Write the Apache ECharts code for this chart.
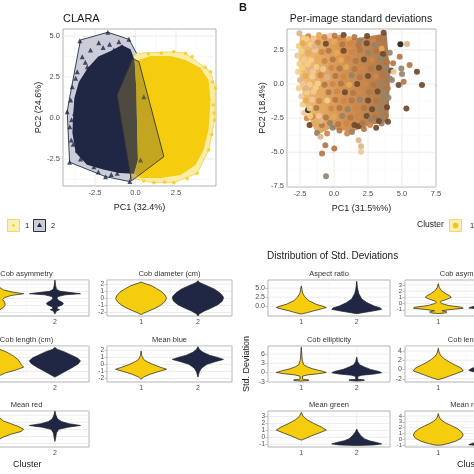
<!DOCTYPE html>
<html><head><meta charset="utf-8">
<script src="https://cdn.jsdelivr.net/npm/echarts@6/dist/echarts.min.js"></script>
<style>html,body{margin:0;padding:0;background:#fff}#c{width:474px;height:474px}</style>
</head><body><div id="c"></div><script>
// ---------------- DATA ----------------
// Panel A (CLARA) – cluster hulls / dense regions / edge points, in PC units
const hullCluster2 = [[-3.40,4.76],[-1.71,5.23],[-0.41,4.80],[0.06,3.95],[0.35,0.6],[-0.35,-3.88],[-1.85,-3.58],[-4.07,-2.70],[-4.22,0.38],[-4.06,1.30]];
const hullCluster1 = [[0.10,3.95],[2.36,4.04],[3.09,3.95],[4.63,2.82],[4.94,1.81],[4.88,-0.12],[4.52,-1.95],[3.81,-3.37],[2.36,-3.95],[1.13,-3.95],[-0.20,-3.68],[-1.05,1.40],[-0.25,3.66]];
const denseCluster2 = [[-2.95,3.05],[-2.3,3.75],[-1.5,4.1],[-0.85,4.45],[-0.31,4.2],[-0.06,3.54],[0.05,1.71],[0.10,-0.73],[0.15,-2.56],[-0.10,-3.40],[-1.0,-3.35],[-2.0,-3.15],[-3.0,-2.85],[-3.7,-2.1],[-3.9,-0.9],[-3.85,0.2],[-3.78,1.2],[-3.5,2.2]];
const denseCluster1 = [[0.19,3.54],[0.93,3.78],[2.16,3.78],[3.09,3.54],[4.01,3.05],[4.51,2.32],[4.63,1.10],[4.51,-0.73],[4.20,-1.95],[3.70,-2.87],[2.78,-3.48],[1.54,-3.66],[0.31,-3.66],[-0.05,-3.40],[0.15,-2.56],[0.10,-0.73],[0.05,1.71],[-0.06,3.54]];
const overlapHull = [[-0.16,3.64],[0.21,3.43],[1.75,-2.36],[-0.25,-3.84],[-1.13,1.40]];
const cluster2Edge = [[-3.44,4.71],[-2.27,4.59],[-1.71,5.23],[-1.03,4.65],[-0.41,4.80],[-3.29,3.74],[-3.60,2.82],[-3.91,1.91],[-4.01,1.10],[-4.22,0.38],[-4.06,-0.53],[-3.97,-1.34],[-4.07,-2.70],[-3.19,-2.36],[-1.85,-3.58],[-1.13,-3.37],[-0.35,-3.88],[-2.78,4.15],[-1.34,4.15],[-0.82,4.35],[-2.98,3.13],[-3.70,2.42],[-3.77,0.29],[-3.70,-0.93],[-3.60,-1.95],[-2.57,-2.97],[0.31,-2.56],[0.51,1.30],[-2.0,4.3],[-1.6,4.5],[-3.1,3.4],[-3.95,-0.1],[-3.85,-1.6],[-3.4,-2.5],[-2.3,-3.3],[-1.5,-3.45]];
const cluster1Edge = [[2.36,4.04],[3.09,3.95],[4.63,2.82],[4.94,1.81],[4.88,-0.12],[4.52,-1.95],[3.81,-3.37],[2.36,-3.95],[1.13,-3.95],[1.60,3.95],[4.30,3.10],[4.80,0.80],[4.70,-1.00],[3.20,-3.70],[0.50,-3.85],[1.80,-3.90],[4.75,2.20],[4.85,0.30],[3.50,3.75],[0.80,3.90]];
const aTicksX = [-2.5, 0, 2.5];
const aTicksY = [-2.5, 0, 2.5, 5];

// Panel B – per-image standard deviations: [PC1, PC2, colour index]
const bPalette = ['#f4cf83','#e7a955','#dcb48a','#b37645','#6e4a2e','#94836a','#d08545','#2b1f18','#f2c79a'];
const bCloudOutline = [[-2.5,3.6],[-0.07,3.46],[1.67,3.36],[3.87,3.73],[4.12,0.66],[3.99,-2.77],[2.65,-3.01],[1.30,-3.5],[-0.29,-3.26],[-1.27,-3.75],[-2.01,-2.04],[-2.5,0.17],[-2.62,1.89]];
const bPoints = [
 [-2.55,3.73,2],[-2.2,3.3,0],[-1.9,3.5,6],[-1.5,3.35,8],[-1.1,3.6,1],[-0.7,3.45,6],[-0.3,3.55,8],[0.05,3.55,3],[0.45,3.4,6],[0.71,3.6,4],[1.1,3.3,1],[1.5,3.45,3],[1.9,3.2,5],[2.43,3.53,4],[2.9,3.1,6],[3.3,3.3,3],[3.65,3.77,4],[3.5,2.6,1],
 [-2.6,2.8,0],[-2.7,2.1,8],[-2.55,1.5,0],[-2.65,0.9,0],[-2.5,0.3,2],[-2.6,-0.3,0],[-2.4,-0.9,8],[-2.3,-1.5,0],[-2.2,-2.1,8],[-2.0,-2.5,6],[-1.91,-1.91,7],
 [-1.8,-3.0,1],[-1.25,-3.58,5],[-1.0,-3.87,2],[-0.51,-3.63,6],[-0.64,-4.49,3],[-0.1,-3.2,5],[0.4,-3.4,3],[0.96,-3.63,6],[1.32,-3.51,5],[1.8,-3.1,4],[2.2,-3.3,3],[2.65,-3.0,6],[3.1,-3.2,4],[3.5,-2.9,5],[3.97,-2.77,4],
 [4.1,2.3,5],[3.9,1.6,3],[4.2,1.0,4],[4.1,0.4,5],[3.95,-0.3,3],[4.0,-1.0,5],[3.9,-1.7,4],[3.8,-2.3,3],
 [4.88,2.92,7],[5.37,2.94,2],[4.83,2.01,3],[5.56,1.4,3],[6.1,0.91,4],[6.47,-0.07,4],[5.0,0.74,5],[5.12,0.17,3],[4.75,-0.07,4],[5.32,-1.79,4],[4.95,1.15,5],[4.39,0.91,8],[4.26,0.29,5],[4.34,1.52,3],
 [1.81,-4.12,2],[1.99,-4.56,2],[1.99,-4.97,8],[0.02,-4.73,3],[-0.88,-5.1,3],[-0.59,-6.76,5],[-1.79,-3.01,4],
 [-2.3,3.0,1],[-1.7,2.9,0],[-1.2,3.05,6],[-0.6,2.95,4],[0,3.1,1],[0.6,2.9,3],[1.2,3.0,6],[1.8,2.85,3],[2.4,3.0,4],[3.0,2.9,5],
 [-2.4,2.4,0],[-1.9,2.3,1],[-1.4,2.5,8],[-0.9,2.35,6],[-0.4,2.45,3],[0.2,2.3,1],[0.7,2.45,4],[1.3,2.35,6],[1.9,2.5,3],[2.5,2.3,5],[3.1,2.45,3],[3.6,2.2,4],
 [-2.2,1.8,8],[-1.7,1.75,0],[-1.2,1.85,1],[-0.7,1.7,6],[-0.1,1.8,3],[0.5,1.75,1],[1.0,1.85,6],[1.6,1.7,3],[2.2,1.8,4],[2.8,1.75,6],[3.4,1.85,5],
 [-2.35,1.2,0],[-1.8,1.15,2],[-1.3,1.25,0],[-0.8,1.1,8],[-0.2,1.2,6],[0.4,1.15,3],[0.9,1.25,1],[1.5,1.1,3],[2.1,1.2,6],[2.7,1.15,3],[3.3,1.2,4],[3.8,1.1,5],
 [-2.1,0.6,1],[-1.6,0.55,0],[-1.0,0.65,6],[-0.5,0.5,2],[0.1,0.6,3],[0.7,0.55,6],[1.3,0.65,5],[1.9,0.5,3],[2.5,0.6,4],[3.1,0.55,6],[3.6,0.65,3],
 [-2.3,0,8],[-1.8,-0.05,0],[-1.2,0.05,0],[-0.7,-0.05,3],[-0.1,0,6],[0.5,0.05,3],[1.1,-0.05,1],[1.7,0,4],[2.3,0.05,6],[2.9,-0.05,3],[3.5,0,5],
 [-2.0,-0.6,0],[-1.5,-0.55,8],[-1.0,-0.65,1],[-0.4,-0.6,3],[0.2,-0.55,6],[0.8,-0.6,4],[1.4,-0.65,3],[2.0,-0.55,6],[2.6,-0.6,3],[3.2,-0.55,4],[3.7,-0.65,5],
 [-2.1,-1.2,1],[-1.6,-1.15,8],[-1.1,-1.25,6],[-0.5,-1.2,0],[0.1,-1.15,3],[0.7,-1.25,6],[1.3,-1.2,3],[1.9,-1.15,5],[2.5,-1.2,4],[3.1,-1.25,3],[3.6,-1.2,5],
 [-1.8,-1.8,0],[-1.3,-1.75,3],[-0.8,-1.85,1],[-0.2,-1.8,6],[0.4,-1.75,3],[1.0,-1.85,5],[1.6,-1.8,6],[2.2,-1.75,3],[2.8,-1.85,4],[3.4,-1.8,5],
 [-1.6,-2.4,6],[-1.1,-2.35,8],[-0.6,-2.45,3],[0,-2.4,1],[0.6,-2.35,5],[1.2,-2.45,3],[1.8,-2.4,6],[2.4,-2.35,4],[3.0,-2.45,3],[3.6,-2.4,5],
 [-1.4,-2.9,1],[-0.9,-3.0,3],[-0.3,-2.85,5],[0.3,-2.95,3],[0.9,-2.9,6],[1.5,-3.0,4],[2.1,-2.85,3],[2.7,-2.6,5],[3.3,-2.7,4],
 [-2.0,3.3,0],[-1.45,2.75,2],[-1.95,1.45,0],[-1.55,0.9,8],[-2.05,-0.3,2],[-1.35,-0.25,0],[-1.75,-2.35,0],[-0.95,-2.7,2]
];
const bTicksX = [-2.5, 0, 2.5, 5, 7.5];
const bTicksY = [-7.5, -5, -2.5, 0, 2.5];

// Violin profiles: [value, relative half-width] from top to bottom
// Means figure (left)
const mAsym1 = [[2.1,0],[1.6,0.05],[1.2,0.2],[0.9,0.55],[0.66,1.0],[0.4,0.5],[0.1,0.25],[-0.2,0.18],[-0.5,0.25],[-0.9,0.28],[-1.3,0.2],[-1.6,0.08],[-2.0,0]];
const mAsym2 = [[2.6,0],[1.8,0.03],[1.3,0.06],[1.0,0.2],[0.85,0.55],[0.66,1.0],[0.5,0.4],[0.25,0.12],[0,0.08],[-0.3,0.15],[-0.6,0.3],[-0.8,0.33],[-1.0,0.25],[-1.2,0.1],[-1.45,0.08],[-1.6,0.18],[-1.8,0.06],[-2.2,0]];
const mDiam1 = [[2.3,0],[2.1,0.15],[1.8,0.4],[1.4,0.6],[1.0,0.78],[0.5,0.93],[0,1.0],[-0.5,0.92],[-1.0,0.75],[-1.4,0.55],[-1.8,0.3],[-2.1,0.1],[-2.3,0]];
const mDiam2 = [[2.5,0],[2.2,0.08],[1.8,0.35],[1.3,0.65],[0.8,0.85],[0.3,0.98],[0,1.0],[-0.4,0.95],[-0.9,0.78],[-1.4,0.5],[-1.8,0.25],[-2.2,0.05],[-2.5,0]];
const mLen1 = [[2.2,0],[1.8,0.3],[1.2,0.6],[0.6,0.8],[0,0.9],[-0.4,1.0],[-0.8,0.7],[-1.2,0.3],[-1.6,0.05],[-1.8,0]];
const mLen2 = [[2.4,0],[2.1,0.1],[1.8,0.35],[1.3,0.65],[0.9,0.88],[0.5,1.0],[0.1,0.92],[-0.4,0.7],[-0.9,0.45],[-1.3,0.25],[-1.6,0.1],[-1.8,0]];
const mBlue1 = [[1.9,0],[1.2,0.03],[0.7,0.1],[0.4,0.22],[0,0.45],[-0.4,0.75],[-0.7,1.0],[-1.0,0.7],[-1.4,0.35],[-1.8,0.1],[-2.1,0]];
const mBlue2 = [[2.5,0],[2.1,0.06],[1.7,0.2],[1.3,0.45],[0.95,0.8],[0.7,1.0],[0.4,0.7],[0,0.35],[-0.5,0.15],[-1.0,0.06],[-1.8,0]];
const mRed1 = [[1.8,0],[1.2,0.2],[0.8,0.5],[0.4,0.8],[0,1.0],[-0.3,0.9],[-0.7,0.5],[-1.1,0.2],[-1.5,0]];
const mRed2 = [[2.6,0],[2.0,0.04],[1.5,0.1],[1.1,0.25],[0.8,0.55],[0.55,1.0],[0.3,0.5],[0,0.15],[-0.5,0.06],[-1.2,0.03],[-1.7,0]];
const meanTitles = ['Cob asymmetry','Cob diameter (cm)','Cob length (cm)','Mean blue','Mean red'];
const meanProfiles = [[mAsym1,mAsym2],[mDiam1,mDiam2],[mLen1,mLen2],[mBlue1,mBlue2],[mRed1,mRed2]];
const meanYRange = [-2.5, 2.6];
const meanYTicks = [-2,-1,0,1,2];

// Std-deviations figure (right)
const sAsp1 = [[5.6,0],[4.5,0.03],[3.5,0.06],[2.5,0.15],[1.5,0.3],[0.5,0.6],[0,0.85],[-0.4,1.0],[-0.8,0.8],[-1.3,0.5],[-1.8,0.25],[-2.2,0]];
const sAsp2 = [[6.9,0],[5,0.03],[3.5,0.08],[2,0.2],[1,0.4],[0,0.7],[-0.5,0.95],[-0.9,1.0],[-1.3,0.7],[-1.7,0.35],[-2.1,0]];
const sAsym1 = [[3.2,0],[2.6,0.04],[2.1,0.12],[1.6,0.3],[1.2,0.48],[1.0,0.52],[0.7,0.35],[0.4,0.12],[0.2,0.08],[0,0.15],[-0.3,0.4],[-0.6,0.95],[-0.75,1.0],[-0.95,0.5],[-1.15,0.15],[-1.35,0.35],[-1.5,0.3],[-1.6,0]];
const sAsym2 = [[3.0,0],[1.5,0.05],[0.5,0.15],[0,0.35],[-0.5,0.85],[-0.7,1.0],[-0.9,0.5],[-1.3,0.2],[-1.6,0]];
const sEll1 = [[8.2,0],[6,0.02],[4,0.04],[2.5,0.1],[1.8,0.25],[1.2,0.45],[0.5,0.8],[0,1.0],[-0.4,0.7],[-0.8,0.25],[-1.2,0.05],[-2.2,0.05],[-2.4,0.3],[-2.6,0.3],[-2.8,0]];
const sEll2 = [[5.0,0],[3.5,0.04],[2.5,0.12],[1.8,0.3],[1,0.55],[0.3,0.9],[-0.1,1.0],[-0.5,0.7],[-0.9,0.2],[-1.3,0.04],[-2.2,0.04],[-2.4,0.3],[-2.6,0.3],[-2.8,0]];
const sLen1 = [[4.6,0],[3.8,0.03],[3.0,0.1],[2.3,0.25],[1.6,0.45],[0.9,0.7],[0.3,0.92],[-0.3,1.0],[-0.8,0.75],[-1.3,0.5],[-1.8,0.25],[-2.2,0]];
const sLen2 = [[4.0,0],[2.5,0.1],[1.0,0.5],[0.2,0.9],[-0.2,1.0],[-0.8,0.6],[-1.5,0.25],[-2.2,0]];
const sGreen1 = [[3.6,0],[3,0.08],[2.5,0.25],[2,0.5],[1.5,0.8],[1.05,1.0],[0.6,0.7],[0.2,0.4],[-0.2,0.15],[-0.4,0]];
const sGreen2 = [[1.2,0],[0.8,0.05],[0.3,0.15],[-0.2,0.3],[-0.5,0.5],[-0.75,0.8],[-0.95,1.0],[-1.1,0.7],[-1.2,0]];
const sRed1 = [[4.4,0],[3.8,0.04],[3.3,0.12],[2.8,0.3],[2.3,0.55],[1.8,0.78],[1.2,0.95],[0.75,1.0],[0.2,0.92],[-0.3,0.7],[-0.7,0.4],[-0.95,0.15],[-1.0,0]];
const sRed2 = [[2.5,0],[1,0.1],[0,0.4],[-0.6,0.8],[-0.9,1.0],[-1.1,0.5],[-1.2,0]];
const sdTitles = ['Aspect ratio','Cob asymmetry','Cob ellipticity','Cob length','Mean green','Mean red'];
const sdProfiles = [[sAsp1,sAsp2],[sAsym1,sAsym2],[sEll1,sEll2],[sLen1,sLen2],[sGreen1,sGreen2],[sRed1,sRed2]];
const sdYRanges = [[-2.75,7.25],[-2.0,3.8],[-3.1,8.6],[-2.7,5.1],[-1.4,3.8],[-1.3,4.85]];
const sdYTicks = [[0,2.5,5],[-1,0,1,2,3],[-3,0,3,6],[-2,0,2,4],[-1,0,1,2,3],[-1,0,1,2,3,4]];
const clusterCats = [1, 2];

// ---------------- RENDER ----------------
const FONT = '"Liberation Sans", Arial, Helvetica, sans-serif';
const YEL = '#f5cc0e', NAVY = '#1f2745';
const HW = 0.45;
const chart = echarts.init(document.getElementById('c'), null, {renderer:'canvas', width:474, height:474});
const grids = [], xAxes = [], yAxes = [], series = [], graphics = [];

function midpoints(t){ const r=[]; for(let i=0;i<t.length-1;i++) r.push((t[i]+t[i+1])/2); return r; }

function addGrid(rect, xr, yr, xt, yt, xfmt, yfmt, fs, yfs, xname, yname) {
  const gi = grids.length;
  grids.push({left:rect[0], top:rect[1], width:rect[2], height:rect[3], show:true, borderColor:'#b3b3b3', borderWidth:1, backgroundColor:'#fff', containLabel:false, outerBoundsMode:'none'});
  const common = (ticks, fmt, size) => ({
    axisLine:{show:false}, splitLine:{show:false},
    axisTick:{show:true, customValues:ticks, length:2.5, lineStyle:{color:'#b3b3b3', width:0.8}},
    axisLabel:{customValues:ticks, formatter:fmt, fontSize:size, color:'#4d4d4d', margin:3, fontFamily:FONT, hideOverlap:false, showMinLabel:true, showMaxLabel:true}
  });
  xAxes.push(Object.assign({gridIndex:gi, type:'value', min:xr[0], max:xr[1]}, common(xt, xfmt, fs),
    xname ? {name:xname, nameLocation:'middle', nameGap:17, nameTextStyle:{fontSize:9, color:'#1a1a1a', fontFamily:FONT}} : {}));
  yAxes.push(Object.assign({gridIndex:gi, type:'value', min:yr[0], max:yr[1]}, common(yt, yfmt, yfs),
    yname ? {name:yname, nameLocation:'middle', nameGap:20, nameRotate:90, nameTextStyle:{fontSize:9, color:'#1a1a1a', fontFamily:FONT}} : {}));
  const lines = [];
  xt.forEach(v=>lines.push([0,v,0])); midpoints(xt).forEach(v=>lines.push([0,v,1]));
  yt.forEach(v=>lines.push([1,v,0])); midpoints(yt).forEach(v=>lines.push([1,v,1]));
  if (yt.length>1) { const lo = yt[0]-(yt[1]-yt[0])/2, hi = yt[yt.length-1]+(yt[1]-yt[0])/2; if(lo>yr[0]) lines.push([1,lo,1]); if(hi<yr[1]) lines.push([1,hi,1]); }
  if (xt.length>1 && xt[1]-xt[0] !== 1) { const lo = xt[0]-(xt[1]-xt[0])/2, hi = xt[xt.length-1]+(xt[1]-xt[0])/2; if(lo>xr[0]) lines.push([0,lo,1]); if(hi<xr[1]) lines.push([0,hi,1]); }
  series.push({type:'custom', xAxisIndex:gi, yAxisIndex:gi, z:1, silent:true, data:lines,
    renderItem(params, api){
      const cs = params.coordSys; const t = api.value(0), v = api.value(1), m = api.value(2);
      const st = {stroke: m ? '#f2f2f2' : '#e4e4e4', lineWidth: m ? 0.5 : 0.7};
      if (t === 0) { const p = api.coord([v, yr[0]]); return {type:'line', shape:{x1:p[0], y1:cs.y, x2:p[0], y2:cs.y+cs.height}, style:st}; }
      const p = api.coord([xr[0], v]); return {type:'line', shape:{x1:cs.x, y1:p[1], x2:cs.x+cs.width, y2:p[1]}, style:st};
    }});
  return gi;
}

function polySeries(gi, polys, styles, z) {
  series.push({type:'custom', xAxisIndex:gi, yAxisIndex:gi, z, silent:true,
    data: polys.map((p,i)=>[i,0]),
    renderItem(params, api){
      const i = params.dataIndex;
      return {type:'polygon', shape:{points: polys[i].map(pt=>api.coord(pt))}, style: styles[i]};
    }});
}

function violinSeries(gi, profs) {
  const fills = [YEL, NAVY];
  series.push({type:'custom', xAxisIndex:gi, yAxisIndex:gi, z:3, silent:true,
    data: clusterCats.map(c=>[c,0]),
    renderItem(params, api){
      const cat = api.value(0), prof = profs[params.dataIndex];
      const right = prof.map(([y,w])=>api.coord([cat + w*HW, y]));
      const left = prof.slice().reverse().map(([y,w])=>api.coord([cat - w*HW, y]));
      return {type:'polygon', shape:{points: right.concat(left)}, style:{fill: fills[params.dataIndex], stroke:'#202020', lineWidth:0.7}};
    }});
}

function txt(text, x, y, size, opts={}) {
  graphics.push(Object.assign({type:'text', x, y, z:100, style:Object.assign({text, fill:'#1a1a1a', fontSize:size, fontFamily:FONT, align:'left', verticalAlign:'middle'}, opts.style||{})}, opts.el||{}));
}

const f1 = v => v.toFixed(1);
const f0 = v => String(v);

// Panel A
const gA = addGrid([63,29,153,157], [-4.48,4.97], [-4.15,5.43], aTicksX, aTicksY, f1, f1, 7.5, 7.5, 'PC1 (32.4%)', 'PC2 (24.6%)');
polySeries(gA, [hullCluster2, hullCluster1, denseCluster2, denseCluster1], [
  {fill:'#cbced8', stroke:'#262e48', lineWidth:0.9},
  {fill:'#fbeca6', stroke:'#f2d45a', lineWidth:0.9},
  {fill:NAVY},
  {fill:YEL}
], 2);
series.push({type:'scatter', xAxisIndex:gA, yAxisIndex:gA, z:3, silent:true, symbol:'triangle', symbolSize:5, itemStyle:{color:NAVY}, data:cluster2Edge});
series.push({type:'scatter', xAxisIndex:gA, yAxisIndex:gA, z:3, silent:true, symbol:'circle', symbolSize:3.5, itemStyle:{color:YEL}, data:cluster1Edge});
polySeries(gA, [overlapHull], [{fill:'rgba(135,118,55,0.45)', stroke:'#3a3a2c', lineWidth:0.9}], 4);

// Panel B
const gB = addGrid([287,29,149,158], [-3.46,7.5], [-7.55,4.04], bTicksX, bTicksY, f1, f1, 7.5, 7.5, 'PC1 (31.5%%)', 'PC2 (18.4%)');
polySeries(gB, [bCloudOutline], [{fill:{type:'linear', x:0, y:0, x2:1, y2:0, colorStops:[{offset:0,color:'#efc27a'},{offset:0.5,color:'#d39252'},{offset:1,color:'#a8784e'}]}}], 2);
series.push({type:'scatter', xAxisIndex:gB, yAxisIndex:gB, z:3, silent:true, symbolSize:6,
  itemStyle:{opacity:0.92, color: p => bPalette[p.value[2]]}, data:bPoints});

// Means violins (left figure)
const meanSlots = [[-36,280],[107,280],[-36,346],[107,346],[-36,411]];
meanTitles.forEach((t,i)=>{
  const [l,tp] = meanSlots[i];
  const g = addGrid([l,tp,125,36], [0.4,2.6], meanYRange, clusterCats, meanYTicks, f0, f0, 7, 6.5);
  violinSeries(g, meanProfiles[i]);
  txt(t, l+62.5, tp-6, 7.5, {style:{align:'center', fill:'#333'}});
});
// Std-dev violins (right figure)
const sdSlots = [[268,280],[405,280],[268,346],[405,346],[268,411],[405,411]];
const sdLabelSize = [7, 6, 7, 7, 6.5, 6];
sdTitles.forEach((t,i)=>{
  const [l,tp] = sdSlots[i];
  const g = addGrid([l,tp,122,36], [0.4,2.6], sdYRanges[i], clusterCats, sdYTicks[i], f0, i===0 ? f1 : f0, 7, sdLabelSize[i]);
  violinSeries(g, sdProfiles[i]);
  txt(t, l+61, tp-6, 7.5, {style:{align:'center', fill:'#333'}});
});

// Titles & labels
txt('CLARA', 63, 19, 11);
txt('B', 243, 8, 11, {style:{fontWeight:'bold', align:'center'}});
txt('Per-image standard deviations', 361, 19, 10.5, {style:{align:'center'}});
txt('Distribution of Std. Deviations', 267, 256, 10);
txt('Std. Deviation', 247, 364, 9, {style:{align:'center'}, el:{rotation:Math.PI/2}});
txt('Cluster', 13, 465, 9);
txt('Cluster', 457, 465, 9);

// Legend A
graphics.push({type:'rect', z:100, shape:{x:7.5,y:219.5,width:12,height:12}, style:{fill:'#fbefb8', stroke:'#f5d75a', lineWidth:1}});
graphics.push({type:'circle', z:101, shape:{cx:13.5,cy:225.5,r:1.3}, style:{fill:YEL}});
txt('1', 25, 226, 7.5);
graphics.push({type:'rect', z:100, shape:{x:33.5,y:219.5,width:12,height:12}, style:{fill:'#cbced8', stroke:'#262e48', lineWidth:1}});
graphics.push({type:'polygon', z:101, shape:{points:[[39.5,222.5],[42,227],[37,227]]}, style:{fill:NAVY}});
txt('2', 51, 226, 7.5);
// Legend B
txt('Cluster', 417, 225, 8.5);
graphics.push({type:'rect', z:100, shape:{x:449.5,y:219.5,width:12,height:12}, style:{fill:'#fbefb8', stroke:'#f5d75a', lineWidth:1}});
graphics.push({type:'circle', z:101, shape:{cx:455.5,cy:225.5,r:2.8}, style:{fill:'#f0c419'}});
txt('1', 470, 226, 7.5);

chart.setOption({animation:false, backgroundColor:'#fff', grid:grids, xAxis:xAxes, yAxis:yAxes, series, graphic:graphics});
</script></body></html>
